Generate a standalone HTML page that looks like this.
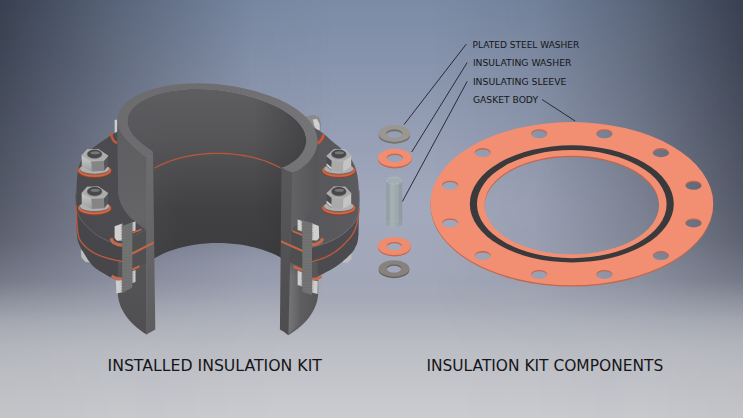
<!DOCTYPE html><html><head><meta charset="utf-8"><title>Insulation Kit</title><style>html,body{margin:0;padding:0;background:#a3a9bd;overflow:hidden}svg{display:block}</style></head><body><svg width="743" height="418" viewBox="0 0 743 418"><defs>
<linearGradient id="bgv" x1="0" y1="0" x2="0" y2="1">
 <stop offset="0" stop-color="#7b8ba6"/>
 <stop offset="0.49" stop-color="#a3a9bd"/>
 <stop offset="0.67" stop-color="#a2a7b8"/>
 <stop offset="0.718" stop-color="#a6aab7"/>
 <stop offset="0.766" stop-color="#b0b3bd"/>
 <stop offset="0.837" stop-color="#bcbec5"/>
 <stop offset="1" stop-color="#cbccd0"/>
</linearGradient>
<linearGradient id="bgh" x1="0" y1="0" x2="1" y2="0">
 <stop offset="0" stop-color="#181c26" stop-opacity="0.68"/>
 <stop offset="0.16" stop-color="#181c26" stop-opacity="0.34"/>
 <stop offset="0.34" stop-color="#181c26" stop-opacity="0.04"/>
 <stop offset="0.45" stop-color="#181c26" stop-opacity="0"/>
 <stop offset="0.58" stop-color="#181c26" stop-opacity="0"/>
 <stop offset="0.72" stop-color="#181c26" stop-opacity="0.09"/>
 <stop offset="0.86" stop-color="#181c26" stop-opacity="0.34"/>
 <stop offset="1" stop-color="#181c26" stop-opacity="0.68"/>
</linearGradient>
<linearGradient id="mv" x1="0" y1="0" x2="0" y2="1">
 <stop offset="0" stop-color="#fff" stop-opacity="1"/>
 <stop offset="0.49" stop-color="#fff" stop-opacity="0.82"/>
 <stop offset="0.574" stop-color="#fff" stop-opacity="0.72"/>
 <stop offset="0.67" stop-color="#fff" stop-opacity="0.485"/>
 <stop offset="0.718" stop-color="#fff" stop-opacity="0.265"/>
 <stop offset="0.766" stop-color="#fff" stop-opacity="0.13"/>
 <stop offset="0.813" stop-color="#fff" stop-opacity="0.075"/>
 <stop offset="0.885" stop-color="#fff" stop-opacity="0.056"/>
 <stop offset="1" stop-color="#fff" stop-opacity="0.06"/>
</linearGradient>
<mask id="mk"><rect width="743" height="418" fill="url(#mv)"/></mask>
</defs>
<rect width="743" height="418" fill="url(#bgv)"/>
<rect width="743" height="418" fill="url(#bgh)" mask="url(#mk)"/>
<path d="M430.40 203.70 A141.40 81.60 0 1 0 713.20 203.70 A141.40 81.60 0 1 0 430.40 203.70 ZM484.50 205.00 A87.30 49.30 0 1 0 659.10 205.00 A87.30 49.30 0 1 0 484.50 205.00 ZM596.21 133.78 A8.20 4.50 0 1 0 612.61 133.78 A8.20 4.50 0 1 0 596.21 133.78 ZM652.70 152.62 A8.20 4.50 0 1 0 669.10 152.62 A8.20 4.50 0 1 0 652.70 152.62 ZM685.31 185.26 A8.20 4.50 0 1 0 701.71 185.26 A8.20 4.50 0 1 0 685.31 185.26 ZM685.31 222.94 A8.20 4.50 0 1 0 701.71 222.94 A8.20 4.50 0 1 0 685.31 222.94 ZM652.70 255.58 A8.20 4.50 0 1 0 669.10 255.58 A8.20 4.50 0 1 0 652.70 255.58 ZM596.21 274.42 A8.20 4.50 0 1 0 612.61 274.42 A8.20 4.50 0 1 0 596.21 274.42 ZM530.99 274.42 A8.20 4.50 0 1 0 547.39 274.42 A8.20 4.50 0 1 0 530.99 274.42 ZM474.50 255.58 A8.20 4.50 0 1 0 490.90 255.58 A8.20 4.50 0 1 0 474.50 255.58 ZM441.89 222.94 A8.20 4.50 0 1 0 458.29 222.94 A8.20 4.50 0 1 0 441.89 222.94 ZM441.89 185.26 A8.20 4.50 0 1 0 458.29 185.26 A8.20 4.50 0 1 0 441.89 185.26 ZM474.50 152.62 A8.20 4.50 0 1 0 490.90 152.62 A8.20 4.50 0 1 0 474.50 152.62 ZM530.99 133.78 A8.20 4.50 0 1 0 547.39 133.78 A8.20 4.50 0 1 0 530.99 133.78 Z" fill="#c4664c" fill-rule="evenodd" transform="translate(0,1.3)"/>
<path d="M430.40 203.70 A141.40 81.60 0 1 0 713.20 203.70 A141.40 81.60 0 1 0 430.40 203.70 ZM484.50 205.00 A87.30 49.30 0 1 0 659.10 205.00 A87.30 49.30 0 1 0 484.50 205.00 ZM596.21 133.78 A8.20 4.50 0 1 0 612.61 133.78 A8.20 4.50 0 1 0 596.21 133.78 ZM652.70 152.62 A8.20 4.50 0 1 0 669.10 152.62 A8.20 4.50 0 1 0 652.70 152.62 ZM685.31 185.26 A8.20 4.50 0 1 0 701.71 185.26 A8.20 4.50 0 1 0 685.31 185.26 ZM685.31 222.94 A8.20 4.50 0 1 0 701.71 222.94 A8.20 4.50 0 1 0 685.31 222.94 ZM652.70 255.58 A8.20 4.50 0 1 0 669.10 255.58 A8.20 4.50 0 1 0 652.70 255.58 ZM596.21 274.42 A8.20 4.50 0 1 0 612.61 274.42 A8.20 4.50 0 1 0 596.21 274.42 ZM530.99 274.42 A8.20 4.50 0 1 0 547.39 274.42 A8.20 4.50 0 1 0 530.99 274.42 ZM474.50 255.58 A8.20 4.50 0 1 0 490.90 255.58 A8.20 4.50 0 1 0 474.50 255.58 ZM441.89 222.94 A8.20 4.50 0 1 0 458.29 222.94 A8.20 4.50 0 1 0 441.89 222.94 ZM441.89 185.26 A8.20 4.50 0 1 0 458.29 185.26 A8.20 4.50 0 1 0 441.89 185.26 ZM474.50 152.62 A8.20 4.50 0 1 0 490.90 152.62 A8.20 4.50 0 1 0 474.50 152.62 ZM530.99 133.78 A8.20 4.50 0 1 0 547.39 133.78 A8.20 4.50 0 1 0 530.99 133.78 Z" fill="#f28f73" fill-rule="evenodd"/>
<path d="M469.80 203.90 A102.00 58.60 0 1 0 673.80 203.90 A102.00 58.60 0 1 0 469.80 203.90 ZM477.00 204.10 A94.80 54.00 0 1 0 666.60 204.10 A94.80 54.00 0 1 0 477.00 204.10 Z" fill="#3a3a3c" fill-rule="evenodd"/>
<path d="M378.60 135.40 A15.80 8.40 0 1 0 410.20 135.40 A15.80 8.40 0 1 0 378.60 135.40 ZM386.20 135.40 A8.20 4.20 0 1 0 402.60 135.40 A8.20 4.20 0 1 0 386.20 135.40 Z" fill="#74726e" fill-rule="evenodd"/><path d="M378.60 133.50 A15.80 8.40 0 1 0 410.20 133.50 A15.80 8.40 0 1 0 378.60 133.50 ZM386.20 133.50 A8.20 4.20 0 1 0 402.60 133.50 A8.20 4.20 0 1 0 386.20 133.50 Z" fill="#9a9792" fill-rule="evenodd"/>
<path d="M377.90 159.20 A16.90 9.20 0 1 0 411.70 159.20 A16.90 9.20 0 1 0 377.90 159.20 ZM386.50 159.20 A8.30 4.20 0 1 0 403.10 159.20 A8.30 4.20 0 1 0 386.50 159.20 Z" fill="#c56a50" fill-rule="evenodd"/><path d="M377.90 157.80 A16.90 9.20 0 1 0 411.70 157.80 A16.90 9.20 0 1 0 377.90 157.80 ZM386.50 157.80 A8.30 4.20 0 1 0 403.10 157.80 A8.30 4.20 0 1 0 386.50 157.80 Z" fill="#f18e72" fill-rule="evenodd"/>
<defs><linearGradient id="slv" x1="0" y1="0" x2="1" y2="0"><stop offset="0" stop-color="#8f9da3"/><stop offset="0.35" stop-color="#a6b2b5"/><stop offset="0.75" stop-color="#99a6ab"/><stop offset="1" stop-color="#8b98a1"/></linearGradient></defs>
<path d="M386.2 180.6 A8 3.9 0 0 1 402.2 180.6 L402.2 223.6 A8 3.6 0 0 1 386.2 223.6 Z" fill="url(#slv)"/>
<ellipse cx="394.2" cy="180.6" rx="7.6" ry="3.5" fill="#a0adb1" stroke="#b3bec0" stroke-width="0.8"/>
<path d="M388.9 182.6V224.6M399.6 182.6V224.6" stroke="#8a989d" stroke-width="0.7" fill="none" opacity="0.8"/>
<path d="M386.6 223.2 A7.6 3.2 0 0 1 401.8 223.2" stroke="#a9b5b7" stroke-width="0.6" fill="none" opacity="0.8"/>
<path d="M377.90 247.30 A16.50 9.10 0 1 0 410.90 247.30 A16.50 9.10 0 1 0 377.90 247.30 ZM386.70 247.30 A7.70 4.10 0 1 0 402.10 247.30 A7.70 4.10 0 1 0 386.70 247.30 Z" fill="#c2684e" fill-rule="evenodd"/><path d="M377.90 246.00 A16.50 9.10 0 1 0 410.90 246.00 A16.50 9.10 0 1 0 377.90 246.00 ZM386.70 246.00 A7.70 4.10 0 1 0 402.10 246.00 A7.70 4.10 0 1 0 386.70 246.00 Z" fill="#ef8c70" fill-rule="evenodd"/>
<path d="M378.60 269.90 A15.40 8.30 0 1 0 409.40 269.90 A15.40 8.30 0 1 0 378.60 269.90 ZM386.60 269.90 A7.40 4.10 0 1 0 401.40 269.90 A7.40 4.10 0 1 0 386.60 269.90 Z" fill="#67635f" fill-rule="evenodd"/><path d="M378.60 268.50 A15.40 8.30 0 1 0 409.40 268.50 A15.40 8.30 0 1 0 378.60 268.50 ZM386.60 268.50 A7.40 4.10 0 1 0 401.40 268.50 A7.40 4.10 0 1 0 386.60 268.50 Z" fill="#87827d" fill-rule="evenodd"/>
<line x1="466.3" y1="44.1" x2="404.0" y2="124.6" stroke="#1d1f26" stroke-width="0.9"/>
<line x1="467.2" y1="62.5" x2="411.7" y2="152.0" stroke="#1d1f26" stroke-width="0.9"/>
<line x1="467.2" y1="81.4" x2="402.4" y2="201.5" stroke="#1d1f26" stroke-width="0.9"/>
<line x1="542.1" y1="99.5" x2="575.1" y2="121.0" stroke="#1d1f26" stroke-width="0.9"/>
<g font-family="'DejaVu Sans','Liberation Sans',sans-serif" fill="#15161a">
<text x="472.6" y="47.6" font-size="9.20" textLength="106.7" lengthAdjust="spacingAndGlyphs">PLATED STEEL WASHER</text>
<text x="472.9" y="66.1" font-size="9.20" textLength="98.5" lengthAdjust="spacingAndGlyphs">INSULATING WASHER</text>
<text x="472.9" y="84.6" font-size="9.20" textLength="93.5" lengthAdjust="spacingAndGlyphs">INSULATING SLEEVE</text>
<text x="473.0" y="103.0" font-size="9.20" textLength="65.0" lengthAdjust="spacingAndGlyphs">GASKET BODY</text>
<text x="107.5" y="371.3" font-size="15.00" textLength="214.4" lengthAdjust="spacingAndGlyphs">INSTALLED INSULATION KIT</text>
<text x="426.4" y="371.3" font-size="15.00" textLength="236.8" lengthAdjust="spacingAndGlyphs">INSULATION KIT COMPONENTS</text>
</g>
<defs>
<linearGradient id="gin" gradientUnits="userSpaceOnUse" x1="0" y1="90" x2="0" y2="260">
 <stop offset="0" stop-color="#5e5e61"/><stop offset="0.3" stop-color="#555558"/><stop offset="0.5" stop-color="#4b4b4e"/><stop offset="0.7" stop-color="#414144"/><stop offset="1" stop-color="#3d3d40"/>
</linearGradient>
<linearGradient id="ginh" x1="0" y1="0" x2="1" y2="0">
 <stop offset="0" stop-color="#5a5a5f" stop-opacity="0.35"/><stop offset="0.3" stop-color="#5a5a5f" stop-opacity="0"/><stop offset="0.7" stop-color="#2e2e31" stop-opacity="0"/><stop offset="1" stop-color="#2e2e31" stop-opacity="0.45"/>
</linearGradient>
<linearGradient id="gtop" gradientUnits="userSpaceOnUse" x1="75" y1="0" x2="359" y2="0">
 <stop offset="0" stop-color="#4a4a4e"/><stop offset="0.5" stop-color="#505054"/><stop offset="1" stop-color="#5b5b5f"/>
</linearGradient>
<linearGradient id="gcl" x1="0" y1="0" x2="0" y2="1"><stop offset="0" stop-color="#6d6d70"/><stop offset="1" stop-color="#5d5d60"/></linearGradient>
<linearGradient id="gcr" x1="0" y1="0" x2="0" y2="1"><stop offset="0" stop-color="#58585b"/><stop offset="1" stop-color="#4d4d50"/></linearGradient>
<linearGradient id="gwl" gradientUnits="userSpaceOnUse" x1="0" y1="120" x2="0" y2="335"><stop offset="0" stop-color="#5d5d60"/><stop offset="0.45" stop-color="#656568"/><stop offset="0.7" stop-color="#545457"/><stop offset="1" stop-color="#4f4f52"/></linearGradient>
<linearGradient id="gwr" gradientUnits="userSpaceOnUse" x1="288" y1="0" x2="318" y2="0"><stop offset="0" stop-color="#646467"/><stop offset="0.6" stop-color="#5b5b5e"/><stop offset="1" stop-color="#555558"/></linearGradient>
<linearGradient id="nf1" x1="0" y1="0" x2="0" y2="1"><stop offset="0" stop-color="#cacaca"/><stop offset="1" stop-color="#9c9c9c"/></linearGradient>
<linearGradient id="grim" gradientUnits="userSpaceOnUse" x1="118" y1="0" x2="318" y2="0"><stop offset="0" stop-color="#6c6c6f"/><stop offset="0.5" stop-color="#6e6e71"/><stop offset="1" stop-color="#757578"/></linearGradient>
<pattern id="thr" width="3" height="1.5" patternUnits="userSpaceOnUse"><rect width="3" height="1.5" fill="#747474"/><rect y="0.8" width="3" height="0.7" fill="#6d6d6d"/></pattern>
<clipPath id="cl"><path d="M0 0H146.5V229.5L123 241V400H0Z"/></clipPath>
<clipPath id="cr"><path d="M743 0H292V231L311 240V400H743Z"/></clipPath>
<clipPath id="cls"><path d="M0 0H123V400H0Z"/></clipPath>
<clipPath id="crs"><path d="M743 0H311V400H743Z"/></clipPath>
</defs><defs><linearGradient id="ash" gradientUnits="userSpaceOnUse" x1="0" y1="240" x2="0" y2="305"><stop offset="0" stop-color="#4a4f63" stop-opacity="0.30"/><stop offset="0.35" stop-color="#4a4f63" stop-opacity="0.14"/><stop offset="1" stop-color="#4a4f63" stop-opacity="0"/></linearGradient></defs><rect x="150" y="238" width="135" height="68" fill="url(#ash)"/><path d="M114.6 120.0 L117.4 119.4 L117.6 139.0 L114.8 139.5Z" fill="#cdcdcd" /><path d="M306.0 116.5 L313.0 114.8 L319.0 117.0 L321.0 124.0 L320.6 133.0 L314.0 135.0 L306.0 128.0Z" fill="#8a8a8c" /><path d="M312.8 119.6 L317.0 119.0 L319.6 124.0 L319.8 130.0 L316.4 131.0 L314.0 125.0Z" fill="#cfcfcf" /><path d="M76.3 196.5 L76.3 195.3 L76.4 193.7 L76.4 191.7 L76.5 189.6 L76.5 187.3 L76.6 185.1 L76.7 183.0 L76.8 181.2 L76.9 179.6 L77.1 178.0 L77.2 176.5 L77.4 175.0 L77.5 173.6 L77.7 172.3 L78.0 171.0 L78.2 169.7 L78.5 168.5 L78.7 167.3 L79.0 166.2 L79.3 165.1 L79.7 164.1 L80.1 163.0 L80.5 162.0 L81.0 161.0 L81.6 160.0 L82.2 159.0 L82.9 158.1 L83.6 157.1 L84.4 156.2 L85.2 155.3 L86.0 154.4 L86.8 153.5 L87.7 152.6 L88.5 151.8 L89.4 150.9 L90.4 150.1 L91.3 149.3 L92.3 148.5 L93.3 147.6 L94.4 146.8 L95.5 145.9 L96.7 145.1 L97.9 144.2 L99.1 143.3 L100.4 142.5 L101.6 141.6 L102.8 140.8 L104.0 140.0 L105.1 139.2 L106.2 138.5 L107.3 137.7 L108.4 137.0 L109.4 136.3 L110.5 135.6 L111.5 135.0 L112.6 134.3 L113.7 133.6 L114.9 132.9 L116.1 132.2 L117.3 131.5 L118.5 130.9 L119.5 130.3 L120.4 129.9 L121.0 129.5 L146.5 150.0 L146.5 229.5 L123.0 241.0 L123.0 245.5 L122.2 245.3 L121.1 245.0 L119.8 244.7 L118.3 244.4 L116.9 244.0 L115.4 243.6 L114.2 243.3 L113.1 243.0 L112.3 242.7 L111.7 242.5 L111.1 242.3 L110.7 242.1 L110.2 241.9 L109.7 241.7 L109.1 241.4 L108.3 241.0 L107.3 240.6 L106.2 240.1 L105.0 239.5 L103.8 238.9 L102.5 238.3 L101.2 237.6 L99.9 236.9 L98.7 236.2 L97.5 235.4 L96.3 234.6 L95.0 233.7 L93.8 232.7 L92.6 231.8 L91.4 230.8 L90.3 229.8 L89.2 228.8 L88.1 227.8 L87.1 226.7 L86.0 225.6 L85.0 224.5 L84.1 223.4 L83.2 222.4 L82.4 221.4 L81.7 220.5 L81.1 219.7 L80.6 218.9 L80.2 218.3 L79.8 217.6 L79.5 217.0 L79.2 216.4 L78.9 215.7 L78.6 215.0 L78.3 214.3 L78.0 213.5 L77.7 212.8 L77.4 212.0 L77.1 211.2 L76.9 210.4 L76.7 209.5 L76.5 208.6 L76.3 207.6 L76.2 206.6 L76.1 205.6 L76.0 204.5 L76.0 203.4 L75.9 202.3 L75.9 201.2 L75.8 200.0 L75.7 198.7 L75.7 197.4 L75.6 195.9 L75.6 194.5 L75.6 193.1 L75.5 191.8 L75.5 190.8 L75.5 190.0Z" fill="url(#gtop)" /><path d="M359.1 196.5 L359.1 195.6 L359.0 194.4 L359.0 193.0 L358.9 191.5 L358.8 189.8 L358.7 188.1 L358.6 186.5 L358.5 185.0 L358.4 183.5 L358.2 182.1 L358.1 180.6 L357.9 179.1 L357.7 177.7 L357.5 176.2 L357.3 174.8 L357.0 173.5 L356.7 172.2 L356.4 170.9 L356.0 169.7 L355.6 168.5 L355.2 167.3 L354.8 166.2 L354.3 165.1 L353.8 164.0 L353.3 163.0 L352.8 161.9 L352.2 161.0 L351.7 160.0 L351.1 159.1 L350.4 158.2 L349.7 157.2 L349.0 156.3 L348.2 155.3 L347.3 154.4 L346.4 153.4 L345.4 152.5 L344.4 151.6 L343.4 150.6 L342.4 149.7 L341.3 148.7 L340.2 147.7 L339.0 146.8 L337.8 145.8 L336.6 144.8 L335.4 143.9 L334.2 142.9 L333.0 142.0 L331.8 141.0 L330.7 140.0 L329.6 139.1 L328.5 138.1 L327.5 137.1 L326.4 136.1 L325.4 135.2 L324.3 134.3 L323.2 133.4 L322.0 132.5 L320.7 131.7 L319.4 130.8 L318.1 130.0 L316.8 129.2 L315.7 128.5 L314.7 127.9 L314.0 127.5 L292.0 150.0 L292.0 231.0 L311.0 240.0 L311.0 247.5 L312.0 247.2 L313.3 246.9 L314.9 246.4 L316.6 245.9 L318.4 245.4 L320.2 244.9 L321.9 244.4 L323.4 243.9 L324.7 243.4 L326.0 243.0 L327.2 242.5 L328.4 242.1 L329.5 241.6 L330.7 241.1 L331.8 240.6 L333.0 240.0 L334.2 239.4 L335.4 238.7 L336.6 238.1 L337.9 237.4 L339.1 236.7 L340.3 235.9 L341.4 235.1 L342.6 234.3 L343.7 233.4 L344.9 232.5 L346.0 231.6 L347.1 230.6 L348.2 229.6 L349.3 228.6 L350.3 227.6 L351.2 226.6 L352.1 225.6 L352.9 224.5 L353.8 223.5 L354.5 222.4 L355.3 221.3 L355.9 220.3 L356.5 219.4 L357.0 218.5 L357.4 217.8 L357.7 217.1 L357.9 216.6 L358.1 216.0 L358.2 215.5 L358.3 214.9 L358.4 214.3 L358.5 213.5 L358.6 212.6 L358.7 211.8 L358.8 210.9 L358.9 209.9 L359.0 208.8 L359.0 207.7 L359.1 206.4 L359.1 205.0 L359.1 203.3 L359.2 201.4 L359.2 199.2 L359.2 197.0 L359.2 194.8 L359.2 192.8 L359.2 191.2 L359.2 190.0Z" fill="url(#gtop)" /><path d="M111.2 132.5 L111.8 137.0 L113.6 140.8 L117.0 143.2" fill="none" stroke="#c8573a" stroke-width="2.4" /><path d="M317.3 143.4 Q322.6 140.5 323.8 134" fill="none" stroke="#c8573a" stroke-width="2.8"/><path d="M80.7 250.0 L86.0 251.0 L91.5 257.0 L91.0 262.5 L85.5 262.0 L81.5 257.5Z" fill="#bdbdbd" /><path d="M351.5 254.0 L346.0 255.0 L342.6 258.5 L343.0 263.0 L348.0 262.6 L351.5 258.5Z" fill="#bdbdbd" /><path d="M75.5 190.0 L75.5 190.8 L75.5 191.8 L75.6 193.1 L75.6 194.5 L75.6 195.9 L75.7 197.4 L75.7 198.7 L75.8 200.0 L75.9 201.2 L75.9 202.3 L76.0 203.4 L76.0 204.5 L76.1 205.6 L76.2 206.6 L76.3 207.6 L76.5 208.6 L76.7 209.5 L76.9 210.4 L77.1 211.2 L77.4 212.0 L77.7 212.8 L78.0 213.5 L78.3 214.3 L78.6 215.0 L78.9 215.7 L79.2 216.4 L79.5 217.0 L79.8 217.6 L80.2 218.3 L80.6 218.9 L81.1 219.7 L81.7 220.5 L82.4 221.4 L83.2 222.4 L84.1 223.4 L85.0 224.5 L86.0 225.6 L87.1 226.7 L88.1 227.8 L89.2 228.8 L90.3 229.8 L91.4 230.8 L92.6 231.8 L93.8 232.7 L95.0 233.7 L96.3 234.6 L97.5 235.4 L98.7 236.2 L99.9 236.9 L101.2 237.6 L102.5 238.3 L103.8 238.9 L105.0 239.5 L106.2 240.1 L107.3 240.6 L108.3 241.0 L109.1 241.4 L109.7 241.7 L110.2 241.9 L110.7 242.1 L111.1 242.3 L111.7 242.5 L112.3 242.7 L113.1 243.0 L114.2 243.3 L115.4 243.6 L116.9 244.0 L118.3 244.4 L119.8 244.7 L121.1 245.0 L122.2 245.3 L123.0 245.5 L123.0 280.8 L122.2 280.7 L121.3 280.5 L120.1 280.3 L118.8 280.1 L117.4 279.8 L115.9 279.5 L114.5 279.0 L113.0 278.5 L111.5 277.8 L109.9 277.0 L108.1 276.1 L106.4 275.1 L104.7 274.1 L103.0 273.1 L101.4 272.1 L100.0 271.2 L98.7 270.4 L97.6 269.6 L96.5 268.9 L95.5 268.2 L94.5 267.4 L93.5 266.6 L92.5 265.6 L91.5 264.5 L90.4 263.1 L89.2 261.6 L88.1 259.9 L86.9 258.1 L85.8 256.3 L84.7 254.6 L83.8 253.0 L82.9 251.6 L82.2 250.4 L81.6 249.3 L81.0 248.4 L80.5 247.5 L80.1 246.6 L79.7 245.8 L79.4 244.9 L79.0 244.0 L78.6 243.0 L78.3 242.1 L78.0 241.2 L77.8 240.2 L77.6 239.2 L77.3 238.2 L77.2 237.1 L77.0 236.0 L76.9 234.7 L76.8 233.2 L76.7 231.6 L76.6 230.0 L76.6 228.5 L76.6 227.0 L76.5 225.9 L76.5 225.0Z" fill="#47474b" /><path d="M359.2 190.0 L359.2 191.2 L359.2 192.8 L359.2 194.8 L359.2 197.0 L359.2 199.2 L359.2 201.4 L359.1 203.3 L359.1 205.0 L359.1 206.4 L359.0 207.7 L359.0 208.8 L358.9 209.9 L358.8 210.9 L358.7 211.8 L358.6 212.6 L358.5 213.5 L358.4 214.3 L358.3 214.9 L358.2 215.5 L358.1 216.0 L357.9 216.6 L357.7 217.1 L357.4 217.8 L357.0 218.5 L356.5 219.4 L355.9 220.3 L355.3 221.3 L354.5 222.4 L353.8 223.5 L352.9 224.5 L352.1 225.6 L351.2 226.6 L350.3 227.6 L349.3 228.6 L348.2 229.6 L347.1 230.6 L346.0 231.6 L344.9 232.5 L343.7 233.4 L342.6 234.3 L341.4 235.1 L340.3 235.9 L339.1 236.7 L337.9 237.4 L336.6 238.1 L335.4 238.7 L334.2 239.4 L333.0 240.0 L331.8 240.6 L330.7 241.1 L329.5 241.6 L328.4 242.1 L327.2 242.5 L326.0 243.0 L324.7 243.4 L323.4 243.9 L321.9 244.4 L320.2 244.9 L318.4 245.4 L316.6 245.9 L314.9 246.4 L313.3 246.9 L312.0 247.2 L311.0 247.5 L311.0 279.0 L311.5 278.8 L312.2 278.6 L313.0 278.3 L314.0 277.9 L315.0 277.5 L316.0 277.2 L317.0 276.7 L318.0 276.3 L319.0 275.9 L320.0 275.4 L321.0 274.9 L322.0 274.4 L323.1 273.8 L324.2 273.3 L325.3 272.6 L326.5 272.0 L327.7 271.3 L329.0 270.7 L330.3 270.0 L331.6 269.3 L332.9 268.5 L334.3 267.6 L335.8 266.7 L337.3 265.6 L338.9 264.4 L340.7 262.9 L342.6 261.4 L344.5 259.8 L346.4 258.2 L348.1 256.6 L349.7 255.1 L351.0 253.8 L352.1 252.6 L352.9 251.5 L353.7 250.4 L354.3 249.4 L354.8 248.5 L355.2 247.6 L355.6 246.8 L356.0 246.0 L356.4 245.3 L356.6 244.8 L356.8 244.4 L357.0 244.0 L357.1 243.6 L357.2 243.1 L357.4 242.6 L357.5 242.0 L357.7 241.2 L357.8 240.3 L358.0 239.3 L358.1 238.2 L358.2 237.2 L358.3 236.3 L358.4 235.6 L358.5 235.0Z" fill="#4b4b4f" /><path d="M76.0 205.0 L76.0 205.6 L76.1 206.3 L76.1 207.2 L76.2 208.2 L76.2 209.4 L76.3 210.5 L76.3 211.8 L76.4 213.0 L76.5 214.3 L76.5 215.7 L76.6 217.2 L76.6 218.8 L76.7 220.4 L76.8 221.9 L76.9 223.5 L77.0 225.0 L77.1 226.5 L77.3 228.0 L77.4 229.6 L77.6 231.1 L77.8 232.6 L78.0 234.0 L78.3 235.4 L78.6 236.6 L79.0 237.7 L79.4 238.8 L79.9 239.8 L80.5 240.7 L81.0 241.5 L81.6 242.4 L82.3 243.2 L82.9 244.0 L83.6 244.8 L84.3 245.6 L85.0 246.3 L85.8 247.0 L86.6 247.7 L87.4 248.3 L88.2 249.0 L89.0 249.6 L89.8 250.2 L90.6 250.8 L91.4 251.3 L92.3 251.9 L93.1 252.4 L94.0 252.9 L94.9 253.3 L95.8 253.8 L96.8 254.3 L97.7 254.7 L98.7 255.1 L99.8 255.5 L100.8 255.9 L101.9 256.3 L102.9 256.6 L104.0 257.0 L105.1 257.4 L106.2 257.7 L107.3 258.0 L108.4 258.4 L109.5 258.7 L110.7 259.0 L111.8 259.3 L113.0 259.6 L114.3 259.9 L115.7 260.2 L117.1 260.4 L118.6 260.7 L119.9 261.0 L121.2 261.2 L122.2 261.4 L123.0 261.5" fill="none" stroke="#bb5a3d" stroke-width="1.4" /><path d="M359.0 208.0 L359.0 208.6 L358.9 209.4 L358.9 210.4 L358.8 211.5 L358.7 212.7 L358.6 213.8 L358.5 215.0 L358.4 216.0 L358.3 217.0 L358.2 217.9 L358.0 218.8 L357.9 219.8 L357.7 220.7 L357.5 221.6 L357.3 222.6 L357.0 223.7 L356.7 224.8 L356.3 226.0 L355.8 227.2 L355.4 228.4 L354.9 229.7 L354.3 230.9 L353.7 232.1 L353.1 233.3 L352.4 234.4 L351.7 235.5 L350.9 236.6 L350.1 237.7 L349.2 238.7 L348.3 239.8 L347.4 240.8 L346.4 241.9 L345.4 243.0 L344.2 244.1 L343.1 245.2 L341.9 246.4 L340.7 247.5 L339.4 248.6 L338.1 249.6 L336.8 250.6 L335.5 251.6 L334.1 252.5 L332.6 253.4 L331.2 254.3 L329.7 255.1 L328.2 255.9 L326.8 256.6 L325.3 257.3 L323.8 257.9 L322.2 258.5 L320.6 259.1 L319.0 259.6 L317.5 260.0 L316.1 260.4 L314.8 260.8 L313.8 261.1 L313.0 261.3 L312.4 261.5 L312.0 261.6 L311.7 261.7 L311.5 261.7 L311.3 261.7 L311.2 261.8 L311.0 261.8" fill="none" stroke="#bb5a3d" stroke-width="1.4" /><path d="M75.5 190.0 L75.5 190.8 L75.5 191.8 L75.6 193.1 L75.6 194.5 L75.6 195.9 L75.7 197.4 L75.7 198.7 L75.8 200.0 L75.9 201.2 L75.9 202.3 L76.0 203.4 L76.0 204.5 L76.1 205.6 L76.2 206.6 L76.3 207.6 L76.5 208.6 L76.7 209.5 L76.9 210.4 L77.1 211.2 L77.4 212.0 L77.7 212.8 L78.0 213.5 L78.3 214.3 L78.6 215.0 L78.9 215.7 L79.2 216.4 L79.5 217.0 L79.8 217.6 L80.2 218.3 L80.6 218.9 L81.1 219.7 L81.7 220.5 L82.4 221.4 L83.2 222.4 L84.1 223.4 L85.0 224.5 L86.0 225.6 L87.1 226.7 L88.1 227.8 L89.2 228.8 L90.3 229.8 L91.4 230.8 L92.6 231.8 L93.8 232.7 L95.0 233.7 L96.3 234.6 L97.5 235.4 L98.7 236.2 L99.9 236.9 L101.2 237.6 L102.5 238.3 L103.8 238.9 L105.0 239.5 L106.2 240.1 L107.3 240.6 L108.3 241.0 L109.1 241.4 L109.7 241.7 L110.2 241.9 L110.7 242.1 L111.1 242.3 L111.7 242.5 L112.3 242.7 L113.1 243.0 L114.2 243.3 L115.4 243.6 L116.9 244.0 L118.3 244.4 L119.8 244.7 L121.1 245.0 L122.2 245.3 L123.0 245.5" fill="none" stroke="#66666a" stroke-width="0.8" /><path d="M359.2 190.0 L359.2 191.2 L359.2 192.8 L359.2 194.8 L359.2 197.0 L359.2 199.2 L359.2 201.4 L359.1 203.3 L359.1 205.0 L359.1 206.4 L359.0 207.7 L359.0 208.8 L358.9 209.9 L358.8 210.9 L358.7 211.8 L358.6 212.6 L358.5 213.5 L358.4 214.3 L358.3 214.9 L358.2 215.5 L358.1 216.0 L357.9 216.6 L357.7 217.1 L357.4 217.8 L357.0 218.5 L356.5 219.4 L355.9 220.3 L355.3 221.3 L354.5 222.4 L353.8 223.5 L352.9 224.5 L352.1 225.6 L351.2 226.6 L350.3 227.6 L349.3 228.6 L348.2 229.6 L347.1 230.6 L346.0 231.6 L344.9 232.5 L343.7 233.4 L342.6 234.3 L341.4 235.1 L340.3 235.9 L339.1 236.7 L337.9 237.4 L336.6 238.1 L335.4 238.7 L334.2 239.4 L333.0 240.0 L331.8 240.6 L330.7 241.1 L329.5 241.6 L328.4 242.1 L327.2 242.5 L326.0 243.0 L324.7 243.4 L323.4 243.9 L321.9 244.4 L320.2 244.9 L318.4 245.4 L316.6 245.9 L314.9 246.4 L313.3 246.9 L312.0 247.2 L311.0 247.5" fill="none" stroke="#6e6e72" stroke-width="0.9" /><path d="M146.6 157.4 L143.4 155.7 L141.0 153.8 L138.6 151.8 L136.3 149.8 L134.1 147.8 L131.9 145.8 L129.7 143.7 L127.7 141.6 L125.7 139.4 L123.9 137.1 L122.2 134.8 L120.7 132.4 L119.4 130.0 L118.4 127.5 L117.6 124.9 L117.2 122.3 L117.0 119.7 L118.2 190.0 L118.0 190.0 L118.1 192.8 L118.5 195.5 L119.1 198.2 L119.9 201.0 L120.9 203.7 L122.2 206.3 L123.7 208.9 L125.4 211.5 L127.3 214.0 L129.5 216.5 L131.8 218.9 L134.4 221.3 L137.1 223.5 L140.1 225.7 L143.2 227.8 L146.5 229.9Z" fill="url(#gwl)" /><path d="M286.0 234.0 L286.0 170.0 L292.3 172.4 L297.4 170.8 L300.9 168.4 L304.1 166.0 L306.9 163.4 L309.4 160.9 L311.5 158.2 L313.2 155.6 L314.7 152.9 L315.8 150.2 L316.6 147.6 L317.1 144.9 L317.4 142.3 L317.6 190.0 L318.0 190.0 L317.9 192.6 L317.6 195.3 L317.0 197.9 L316.3 200.5 L315.3 203.1 L314.2 205.6 L312.8 208.1 L311.2 210.6 L309.5 213.0 L307.5 215.4 L305.4 217.7 L303.0 220.0 L300.5 222.2 L297.8 224.4 L294.9 226.4 L291.9 228.4 L293.0 229.0 L293.0 234.0Z" fill="url(#gwr)" /><path d="M146.6 262.0 L118.0 262.0 L117.8 292.0 L117.8 292.0 L117.9 295.0 L118.3 297.9 L118.9 300.9 L119.7 303.8 L120.8 306.7 L122.1 309.5 L123.6 312.3 L125.3 315.1 L127.3 317.8 L129.5 320.4 L131.9 323.0 L134.5 325.5 L137.3 328.0 L140.3 330.3 L143.4 332.6 L146.8 334.7Z" fill="url(#gwl)" /><path d="M285.0 262.0 L318.0 262.0 L318.2 292.0 L318.2 292.0 L318.1 295.0 L317.7 298.0 L317.1 301.0 L316.2 304.0 L315.1 306.9 L313.8 309.8 L312.2 312.6 L310.4 315.4 L308.4 318.2 L306.1 320.9 L303.7 323.5 L301.0 326.0 L298.1 328.5 L295.0 330.8 L291.8 333.1 L288.3 335.3 L285.0 333.0Z" fill="url(#gwr)" /><defs><linearGradient id="hlr" gradientUnits="userSpaceOnUse" x1="288" y1="0" x2="301" y2="0"><stop offset="0" stop-color="#78787b" stop-opacity="0.9"/><stop offset="1" stop-color="#78787b" stop-opacity="0"/></linearGradient><linearGradient id="hlm" gradientUnits="userSpaceOnUse" x1="0" y1="264" x2="0" y2="290"><stop offset="0" stop-color="#000"/><stop offset="0.45" stop-color="#fff"/><stop offset="1" stop-color="#fff"/></linearGradient><mask id="mhl"><rect x="280" y="260" width="40" height="80" fill="url(#hlm)"/></mask></defs><g mask="url(#mhl)"><path d="M288.0 264.0 L301.0 264.0 L301.0 322.0 L288.4 334.0Z" fill="url(#hlr)" /></g><path d="M150.0 262.0 L150.0 152.0 L153.0 152.3 L151.0 150.6 L148.7 149.0 L146.4 147.3 L144.2 145.6 L142.0 143.9 L139.9 142.1 L137.9 140.3 L135.9 138.4 L134.1 136.4 L132.5 134.4 L131.0 132.3 L129.7 130.1 L128.7 127.9 L128.0 125.6 L127.5 123.3 L127.4 120.9 L127.5 118.5 L128.1 116.2 L129.0 113.8 L130.3 111.5 L132.0 109.2 L134.0 106.9 L136.5 104.8 L139.2 102.7 L142.3 100.8 L145.8 99.0 L149.5 97.3 L153.4 95.7 L157.6 94.3 L162.0 93.1 L166.6 92.0 L171.3 91.1 L176.1 90.4 L180.9 89.8 L185.8 89.4 L190.7 89.1 L195.6 89.0 L200.4 89.0 L205.2 89.2 L209.9 89.4 L214.5 89.8 L219.0 90.3 L223.4 90.8 L227.6 91.5 L231.8 92.2 L235.8 93.0 L239.7 93.8 L243.5 94.7 L247.2 95.7 L250.8 96.7 L254.3 97.8 L257.7 98.9 L261.0 100.0 L264.2 101.2 L267.3 102.4 L270.3 103.7 L273.3 105.0 L276.1 106.4 L278.9 107.8 L281.5 109.3 L284.1 110.8 L286.6 112.4 L288.9 114.0 L291.2 115.7 L293.3 117.4 L295.3 119.2 L297.2 121.0 L298.9 122.9 L300.5 124.9 L301.9 126.9 L303.1 128.9 L304.2 131.1 L305.0 133.2 L305.6 135.4 L306.0 137.6 L306.2 139.9 L306.1 142.2 L305.8 144.5 L305.1 146.9 L304.2 149.2 L303.0 151.5 L301.5 153.8 L299.7 156.1 L297.5 158.4 L295.1 160.5 L292.3 162.6 L289.2 164.7 L285.8 166.6 L281.5 168.0 L285.0 168.0 L285.0 262.0 L280.2 257.3 L276.0 255.1 L271.5 253.1 L266.7 251.2 L261.8 249.5 L256.6 248.0 L251.3 246.7 L245.9 245.5 L240.3 244.6 L234.6 243.9 L228.9 243.4 L223.1 243.1 L217.3 243.0 L211.5 243.1 L205.7 243.5 L200.0 244.0 L194.3 244.8 L188.8 245.8 L183.4 247.0 L178.1 248.3 L173.0 249.9 L168.1 251.6 L163.4 253.6 L159.0 255.7 L154.8 257.9Z" fill="url(#gin)" /><path d="M150.0 262.0 L150.0 152.0 L153.0 152.3 L151.0 150.6 L148.7 149.0 L146.4 147.3 L144.2 145.6 L142.0 143.9 L139.9 142.1 L137.9 140.3 L135.9 138.4 L134.1 136.4 L132.5 134.4 L131.0 132.3 L129.7 130.1 L128.7 127.9 L128.0 125.6 L127.5 123.3 L127.4 120.9 L127.5 118.5 L128.1 116.2 L129.0 113.8 L130.3 111.5 L132.0 109.2 L134.0 106.9 L136.5 104.8 L139.2 102.7 L142.3 100.8 L145.8 99.0 L149.5 97.3 L153.4 95.7 L157.6 94.3 L162.0 93.1 L166.6 92.0 L171.3 91.1 L176.1 90.4 L180.9 89.8 L185.8 89.4 L190.7 89.1 L195.6 89.0 L200.4 89.0 L205.2 89.2 L209.9 89.4 L214.5 89.8 L219.0 90.3 L223.4 90.8 L227.6 91.5 L231.8 92.2 L235.8 93.0 L239.7 93.8 L243.5 94.7 L247.2 95.7 L250.8 96.7 L254.3 97.8 L257.7 98.9 L261.0 100.0 L264.2 101.2 L267.3 102.4 L270.3 103.7 L273.3 105.0 L276.1 106.4 L278.9 107.8 L281.5 109.3 L284.1 110.8 L286.6 112.4 L288.9 114.0 L291.2 115.7 L293.3 117.4 L295.3 119.2 L297.2 121.0 L298.9 122.9 L300.5 124.9 L301.9 126.9 L303.1 128.9 L304.2 131.1 L305.0 133.2 L305.6 135.4 L306.0 137.6 L306.2 139.9 L306.1 142.2 L305.8 144.5 L305.1 146.9 L304.2 149.2 L303.0 151.5 L301.5 153.8 L299.7 156.1 L297.5 158.4 L295.1 160.5 L292.3 162.6 L289.2 164.7 L285.8 166.6 L281.5 168.0 L285.0 168.0 L285.0 262.0 L280.2 257.3 L276.0 255.1 L271.5 253.1 L266.7 251.2 L261.8 249.5 L256.6 248.0 L251.3 246.7 L245.9 245.5 L240.3 244.6 L234.6 243.9 L228.9 243.4 L223.1 243.1 L217.3 243.0 L211.5 243.1 L205.7 243.5 L200.0 244.0 L194.3 244.8 L188.8 245.8 L183.4 247.0 L178.1 248.3 L173.0 249.9 L168.1 251.6 L163.4 253.6 L159.0 255.7 L154.8 257.9Z" fill="url(#ginh)" /><path d="M154.4 168.2 L157.5 166.5 L160.8 164.9 L164.3 163.3 L167.8 161.9 L171.5 160.5 L175.4 159.3 L179.3 158.2 L183.3 157.2 L187.4 156.3 L191.6 155.5 L195.8 154.8 L200.1 154.3 L204.4 153.9 L208.8 153.5 L213.2 153.4 L217.6 153.3 L222.0 153.4 L226.4 153.5 L230.8 153.9 L235.1 154.3 L239.4 154.8 L243.6 155.5 L247.8 156.3 L251.9 157.2 L255.9 158.2 L259.8 159.3 L263.7 160.5 L267.4 161.9 L270.9 163.3 L274.4 164.9 L277.7 166.5 L280.8 168.2" fill="none" stroke="#b5583b" stroke-width="1.3" /><path d="M146.6 157.4 L143.4 155.7 L141.0 153.8 L138.6 151.8 L136.3 149.8 L134.1 147.8 L131.9 145.8 L129.7 143.7 L127.7 141.6 L125.7 139.4 L123.9 137.1 L122.2 134.8 L120.7 132.4 L119.4 130.0 L118.4 127.5 L117.6 124.9 L117.2 122.3 L117.0 119.7 L117.3 117.0 L117.9 114.4 L118.9 111.7 L120.4 109.1 L122.2 106.5 L124.5 104.0 L127.2 101.5 L130.2 99.2 L133.7 97.0 L137.5 94.9 L141.7 93.0 L146.1 91.2 L150.8 89.7 L155.8 88.2 L160.9 87.0 L166.2 85.9 L171.6 85.1 L177.0 84.4 L182.6 83.9 L188.1 83.5 L193.6 83.4 L199.1 83.3 L204.5 83.4 L209.9 83.7 L215.1 84.1 L220.3 84.6 L225.3 85.2 L230.2 85.8 L235.0 86.6 L239.7 87.5 L244.2 88.4 L248.6 89.4 L252.9 90.5 L257.1 91.7 L261.2 92.9 L265.2 94.2 L269.0 95.5 L272.7 96.9 L276.3 98.3 L279.8 99.8 L283.2 101.4 L286.4 103.1 L289.5 104.8 L292.5 106.5 L295.3 108.3 L298.0 110.2 L300.6 112.2 L303.0 114.2 L305.2 116.2 L307.3 118.3 L309.2 120.5 L310.9 122.7 L312.4 125.0 L313.8 127.3 L314.9 129.7 L315.9 132.2 L316.6 134.6 L317.1 137.2 L317.4 139.7 L317.4 142.3 L317.1 144.9 L316.6 147.6 L315.8 150.2 L314.7 152.9 L313.2 155.6 L311.5 158.2 L309.4 160.9 L306.9 163.4 L304.1 166.0 L300.9 168.4 L297.4 170.8 L292.3 172.4 L281.5 168.0 L285.8 166.6 L289.2 164.7 L292.3 162.6 L295.1 160.5 L297.5 158.4 L299.7 156.1 L301.5 153.8 L303.0 151.5 L304.2 149.2 L305.1 146.9 L305.8 144.5 L306.1 142.2 L306.2 139.9 L306.0 137.6 L305.6 135.4 L305.0 133.2 L304.2 131.1 L303.1 128.9 L301.9 126.9 L300.5 124.9 L298.9 122.9 L297.2 121.0 L295.3 119.2 L293.3 117.4 L291.2 115.7 L288.9 114.0 L286.6 112.4 L284.1 110.8 L281.5 109.3 L278.9 107.8 L276.1 106.4 L273.3 105.0 L270.3 103.7 L267.3 102.4 L264.2 101.2 L261.0 100.0 L257.7 98.9 L254.3 97.8 L250.8 96.7 L247.2 95.7 L243.5 94.7 L239.7 93.8 L235.8 93.0 L231.8 92.2 L227.6 91.5 L223.4 90.8 L219.0 90.3 L214.5 89.8 L209.9 89.4 L205.2 89.2 L200.4 89.0 L195.6 89.0 L190.7 89.1 L185.8 89.4 L180.9 89.8 L176.1 90.4 L171.3 91.1 L166.6 92.0 L162.0 93.1 L157.6 94.3 L153.4 95.7 L149.5 97.3 L145.8 99.0 L142.3 100.8 L139.2 102.7 L136.5 104.8 L134.0 106.9 L132.0 109.2 L130.3 111.5 L129.0 113.8 L128.1 116.2 L127.5 118.5 L127.4 120.9 L127.5 123.3 L128.0 125.6 L128.7 127.9 L129.7 130.1 L131.0 132.3 L132.5 134.4 L134.1 136.4 L135.9 138.4 L137.9 140.3 L139.9 142.1 L142.0 143.9 L144.2 145.6 L146.4 147.3 L148.7 149.0 L151.0 150.6 L153.0 152.3Z" fill="url(#grim)" /><path d="M146.6 157.4 L153.0 152.3 L155.3 329.5 L146.3 334.6Z" fill="url(#gcl)" /><path d="M281.5 168.0 L292.3 172.4 L288.4 334.6 L279.9 329.5Z" fill="url(#gcr)" /><path d="M131.0 237.2 L146.5 229.5 L146.5 263.0 L131.0 270.0Z" fill="#505053" /><path d="M131.0 253.0 L153.6 241.6 L153.7 243.8 L131.0 255.4Z" fill="#c66644" /><path d="M110.8 238.5 L113.5 242.6 L118.0 244.6 L122.4 245.2" fill="none" stroke="#c46a4c" stroke-width="3.2" /><path d="M132.3 232.0 L141.5 228.4 L141.5 230.2 L132.3 233.8Z" fill="#c66644" /><path d="M114.6 226.2 L122.3 223.6 L122.3 240.5 L117.0 240.8 L114.6 238.0Z" fill="#d0d0d0" /><path d="M132.3 222.5 L135.5 221.5 L135.5 230.5 L132.3 231.5Z" fill="#cfcfcf" /><path d="M111.5 276.2 L116.0 278.3 L122.4 279.3" fill="none" stroke="#c46a4c" stroke-width="3.0" /><path d="M132.3 268.3 L139.5 265.2 L139.5 267.5 L132.3 270.8Z" fill="#c66644" /><path d="M115.8 280.6 L122.3 280.2 L122.3 292.3 L116.4 293.6Z" fill="#cdcdcd" /><path d="M132.3 271.3 L135.5 270.0 L135.5 282.0 L132.3 283.0Z" fill="#cccccc" /><path d="M122.2 226.0 L132.3 222.3 L132.3 287.5 L122.2 293.0Z" fill="url(#thr)" /><line x1="121.6" y1="224.5" x2="121.6" y2="240.0" stroke="#8d8d8d" stroke-width="1.3" stroke-dasharray="0.8 0.8"/><line x1="132.9" y1="222.8" x2="132.9" y2="231.0" stroke="#8d8d8d" stroke-width="1.3" stroke-dasharray="0.8 0.8"/><line x1="121.6" y1="280.5" x2="121.6" y2="292.0" stroke="#8d8d8d" stroke-width="1.3" stroke-dasharray="0.8 0.8"/><line x1="132.9" y1="271.5" x2="132.9" y2="282.5" stroke="#8d8d8d" stroke-width="1.3" stroke-dasharray="0.8 0.8"/><path d="M290.6 230.4 L303.5 236.5 L303.5 268.5 L289.8 262.2Z" fill="#4e4e51" /><path d="M281.0 240.2 L303.5 250.2 L303.5 252.6 L281.0 242.6Z" fill="#c66644" /><path d="M311.8 244.6 L316.0 244.2 L320.5 242.0 L323.0 238.5" fill="none" stroke="#c46a4c" stroke-width="3.2" /><path d="M292.5 230.2 L302.3 234.0 L302.3 235.8 L292.5 232.0Z" fill="#c66644" /><path d="M297.6 219.5 L302.3 221.0 L302.3 231.5 L297.6 230.0Z" fill="#cfcfcf" /><path d="M311.9 223.3 L318.8 226.0 L319.2 238.0 L317.0 240.6 L311.9 240.3Z" fill="#d0d0d0" /><path d="M293.7 265.0 L302.3 268.8 L302.3 271.8 L293.7 268.0Z" fill="#c66644" /><path d="M311.8 279.6 L317.0 278.8 L321.5 276.4" fill="none" stroke="#c46a4c" stroke-width="3.0" /><path d="M297.6 270.5 L302.3 272.5 L302.3 286.5 L297.6 285.0Z" fill="#cccccc" /><path d="M311.9 280.6 L317.8 281.0 L317.6 294.0 L311.9 292.6Z" fill="#cdcdcd" /><path d="M302.3 220.3 L312.0 223.0 L312.0 295.0 L302.3 291.8Z" fill="url(#thr)" /><line x1="301.7" y1="221.0" x2="301.7" y2="231.0" stroke="#8d8d8d" stroke-width="1.3" stroke-dasharray="0.8 0.8"/><line x1="312.6" y1="224.0" x2="312.6" y2="240.0" stroke="#8d8d8d" stroke-width="1.3" stroke-dasharray="0.8 0.8"/><line x1="301.7" y1="272.8" x2="301.7" y2="286.0" stroke="#8d8d8d" stroke-width="1.3" stroke-dasharray="0.8 0.8"/><line x1="312.6" y1="281.0" x2="312.6" y2="293.0" stroke="#8d8d8d" stroke-width="1.3" stroke-dasharray="0.8 0.8"/><ellipse cx="94.6" cy="171.4" rx="16.7" ry="6.6" fill="#8f4029"/><ellipse cx="94.6" cy="170.6" rx="16.7" ry="6.4" fill="#c05a3c"/><ellipse cx="94.6" cy="170.4" rx="15.6" ry="5.7" fill="none" stroke="#d87a5a" stroke-width="0.7"/><ellipse cx="94.6" cy="169.6" rx="14.5" ry="4.9" fill="#6a6a6a"/><ellipse cx="94.6" cy="168.8" rx="14.5" ry="4.9" fill="#b0b0b0"/><path d="M81.7 155.8 L91.7 161.2 L91.7 171.6 L81.7 166.2Z" fill="url(#nf1)" /><path d="M91.7 161.2 L104.2 160.4 L104.2 170.8 L91.7 171.6Z" fill="#858585" /><path d="M104.2 160.4 L108.0 155.8 L108.0 166.2 L104.2 170.8Z" fill="#565658" /><path d="M81.7 155.8 L91.7 161.2 L104.2 160.4 L108.0 155.8 L98.6 149.4 L87.1 149.6Z" fill="#acacac" stroke="#c8c8c8" stroke-width="0.5"/><ellipse cx="94.6" cy="154.4" rx="7.9" ry="4.9" fill="#8c8c8c"/><ellipse cx="94.6" cy="154.0" rx="7.3" ry="4.3" fill="#48484b"/><ellipse cx="95.2" cy="152.8" rx="4.6" ry="1.5" fill="#77777a"/><ellipse cx="94.6" cy="208.8" rx="16.7" ry="6.6" fill="#8f4029"/><ellipse cx="94.6" cy="208.0" rx="16.7" ry="6.4" fill="#c05a3c"/><ellipse cx="94.6" cy="207.8" rx="15.6" ry="5.7" fill="none" stroke="#d87a5a" stroke-width="0.7"/><ellipse cx="94.6" cy="207.0" rx="14.5" ry="4.9" fill="#6a6a6a"/><ellipse cx="94.6" cy="206.2" rx="14.5" ry="4.9" fill="#b0b0b0"/><path d="M81.7 193.2 L91.7 198.6 L91.7 209.0 L81.7 203.6Z" fill="url(#nf1)" /><path d="M91.7 198.6 L104.2 197.8 L104.2 208.2 L91.7 209.0Z" fill="#858585" /><path d="M104.2 197.8 L108.0 193.2 L108.0 203.6 L104.2 208.2Z" fill="#565658" /><path d="M81.7 193.2 L91.7 198.6 L104.2 197.8 L108.0 193.2 L98.6 186.8 L87.1 187.0Z" fill="#acacac" stroke="#c8c8c8" stroke-width="0.5"/><ellipse cx="94.6" cy="191.8" rx="7.9" ry="4.9" fill="#8c8c8c"/><ellipse cx="94.6" cy="191.4" rx="7.3" ry="4.3" fill="#48484b"/><ellipse cx="95.2" cy="190.2" rx="4.6" ry="1.5" fill="#77777a"/><ellipse cx="338.8" cy="171.4" rx="16.7" ry="6.6" fill="#8f4029"/><ellipse cx="338.8" cy="170.6" rx="16.7" ry="6.4" fill="#c05a3c"/><ellipse cx="338.8" cy="170.4" rx="15.6" ry="5.7" fill="none" stroke="#d87a5a" stroke-width="0.7"/><ellipse cx="338.8" cy="169.6" rx="14.5" ry="4.9" fill="#6a6a6a"/><ellipse cx="338.8" cy="168.8" rx="14.5" ry="4.9" fill="#b0b0b0"/><path d="M326.6 156.0 L331.6 160.2 L331.6 170.6 L326.6 166.4Z" fill="#4c4c4e" /><path d="M331.6 160.2 L343.1 161.3 L343.1 171.7 L331.6 170.6Z" fill="#aaaaaa" /><path d="M343.1 161.3 L351.2 156.2 L351.2 166.6 L343.1 171.7Z" fill="#c4c4c4" /><path d="M326.6 163.2 L331.6 167.4 L331.6 170.0 L326.6 165.8Z" fill="#cfcfcf" /><path d="M326.6 156.0 L331.6 160.2 L343.1 161.3 L351.2 156.2 L345.3 149.5 L333.8 149.4Z" fill="#acacac" stroke="#c8c8c8" stroke-width="0.5"/><ellipse cx="338.8" cy="154.4" rx="7.9" ry="4.9" fill="#8c8c8c"/><ellipse cx="338.8" cy="154.0" rx="7.3" ry="4.3" fill="#48484b"/><ellipse cx="339.4" cy="152.8" rx="4.6" ry="1.5" fill="#77777a"/><ellipse cx="338.8" cy="208.8" rx="16.7" ry="6.6" fill="#8f4029"/><ellipse cx="338.8" cy="208.0" rx="16.7" ry="6.4" fill="#c05a3c"/><ellipse cx="338.8" cy="207.8" rx="15.6" ry="5.7" fill="none" stroke="#d87a5a" stroke-width="0.7"/><ellipse cx="338.8" cy="207.0" rx="14.5" ry="4.9" fill="#6a6a6a"/><ellipse cx="338.8" cy="206.2" rx="14.5" ry="4.9" fill="#b0b0b0"/><path d="M326.6 193.4 L331.6 197.6 L331.6 208.0 L326.6 203.8Z" fill="#4c4c4e" /><path d="M331.6 197.6 L343.1 198.7 L343.1 209.1 L331.6 208.0Z" fill="#aaaaaa" /><path d="M343.1 198.7 L351.2 193.6 L351.2 204.0 L343.1 209.1Z" fill="#c4c4c4" /><path d="M326.6 200.6 L331.6 204.8 L331.6 207.4 L326.6 203.2Z" fill="#cfcfcf" /><path d="M326.6 193.4 L331.6 197.6 L343.1 198.7 L351.2 193.6 L345.3 186.9 L333.8 186.8Z" fill="#acacac" stroke="#c8c8c8" stroke-width="0.5"/><ellipse cx="338.8" cy="191.8" rx="7.9" ry="4.9" fill="#8c8c8c"/><ellipse cx="338.8" cy="191.4" rx="7.3" ry="4.3" fill="#48484b"/><ellipse cx="339.4" cy="190.2" rx="4.6" ry="1.5" fill="#77777a"/></svg></body></html>
